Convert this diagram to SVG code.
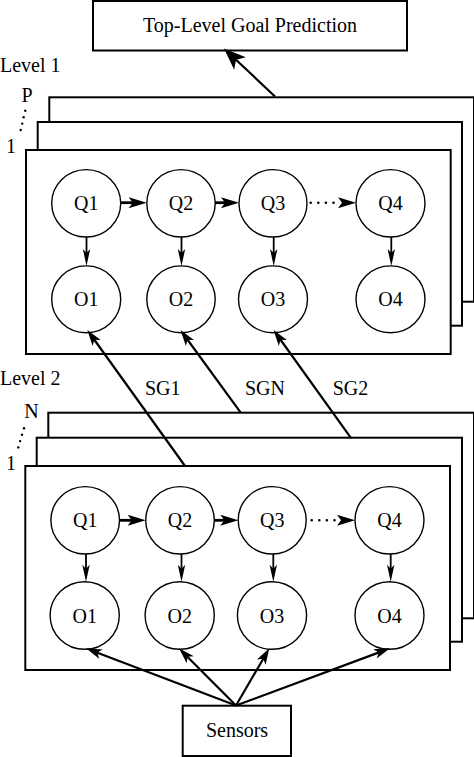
<svg xmlns="http://www.w3.org/2000/svg" width="474" height="757" viewBox="0 0 474 757">
<style>
text{font-family:"Liberation Serif","Times New Roman",serif;font-size:20px;fill:#000}
.c{text-anchor:middle}
.box{fill:#fff;stroke:#000;stroke-width:2}
.n{fill:#fff;stroke:#000;stroke-width:1.4}
.a{fill:none;stroke:#000;stroke-width:2.2}
.h{fill:none;stroke:#000;stroke-width:2.8}
.v{fill:none;stroke:#000;stroke-width:1.8}
.d{fill:none;stroke:#000;stroke-width:2.6;stroke-linecap:round;stroke-dasharray:0 7.6}
</style>
<defs>
<marker id="mq" markerUnits="userSpaceOnUse" orient="auto" refX="0" refY="0" markerWidth="1" markerHeight="1" overflow="visible"><path d="M8,0 L-10,-5.5 L-6,0 L-10,5.5 Z" fill="#000"/></marker>
<marker id="mv" markerUnits="userSpaceOnUse" orient="auto" refX="0" refY="0" markerWidth="1" markerHeight="1" overflow="visible"><path d="M8,0 L-9,-3.7 L-5,0 L-9,3.7 Z" fill="#000"/></marker>
<marker id="ms" markerUnits="userSpaceOnUse" orient="auto" refX="0" refY="0" markerWidth="1" markerHeight="1" overflow="visible"><path d="M8,0 L-8,-5 L-4,0 L-8,5 Z" fill="#000"/></marker>
<marker id="mt" markerUnits="userSpaceOnUse" orient="auto" refX="0" refY="0" markerWidth="1" markerHeight="1" overflow="visible"><path d="M11,0 L-11,-8.5 L-5.5,0 L-11,8.5 Z" fill="#000"/></marker>
</defs>
<rect width="474" height="757" fill="#fff"/>

<g id="top-goal">
<rect class="box" x="93" y="1" width="314" height="49.5"/>
<text class="c" x="250" y="32">Top-Level Goal Prediction</text>
</g>

<g id="level1">
<text x="0" y="72">Level 1</text>
<text x="21.5" y="101.5">P</text>
<g fill="#000"><circle cx="25.3" cy="110.7" r="1.2"/><circle cx="23.6" cy="117.2" r="1.2"/><circle cx="22.2" cy="123.6" r="1.2"/><circle cx="20.7" cy="130" r="1.2"/></g>
<text x="6" y="153">1</text>
<rect class="box" x="49.3" y="97.3" width="424.7" height="204.4"/>
<rect class="box" x="37.7" y="122" width="424.3" height="203.7"/>
<rect class="box" x="26" y="150" width="424.7" height="204"/>
</g>
<g id="L1-Q1"><ellipse class="n" cx="86.2" cy="203.3" rx="34.5" ry="33.7"/><text class="c" x="86.2" y="210">Q1</text></g>
<g id="L1-Q2"><ellipse class="n" cx="181" cy="203.3" rx="34.2" ry="33.7"/><text class="c" x="181" y="210">Q2</text></g>
<g id="L1-Q3"><ellipse class="n" cx="273" cy="203.3" rx="34" ry="33.7"/><text class="c" x="273" y="210">Q3</text></g>
<g id="L1-Q4"><ellipse class="n" cx="390.5" cy="203.3" rx="34.5" ry="33.7"/><text class="c" x="390.5" y="210">Q4</text></g>
<g id="L1-O1"><ellipse class="n" cx="86.2" cy="299.3" rx="34.5" ry="33.4"/><text class="c" x="86.2" y="306.3">O1</text></g>
<g id="L1-O2"><ellipse class="n" cx="181" cy="299.3" rx="34.2" ry="33.4"/><text class="c" x="181" y="306.3">O2</text></g>
<g id="L1-O3"><ellipse class="n" cx="273" cy="299.3" rx="34.5" ry="33.4"/><text class="c" x="273" y="306.3">O3</text></g>
<g id="L1-O4"><ellipse class="n" cx="390.5" cy="299.3" rx="34.5" ry="33.4"/><text class="c" x="390.5" y="306.3">O4</text></g>

<g id="level2">
<text x="0" y="385">Level 2</text>
<text class="c" x="31.5" y="418">N</text>
<g fill="#000"><circle cx="24" cy="428.3" r="1.2"/><circle cx="22" cy="434.7" r="1.2"/><circle cx="20.1" cy="441.1" r="1.2"/><circle cx="18.3" cy="447.4" r="1.2"/></g>
<text x="6" y="470">1</text>
<rect class="box" x="48.3" y="412.7" width="425.7" height="205.6"/>
<rect class="box" x="36.7" y="437.7" width="425.3" height="204"/>
<rect class="box" x="25.3" y="466" width="424.7" height="204"/>
</g>
<g id="L2-Q1"><ellipse class="n" cx="85.2" cy="520.3" rx="34.3" ry="33.7"/><text class="c" x="85.2" y="527.3">Q1</text></g>
<g id="L2-Q2"><ellipse class="n" cx="180" cy="520.3" rx="34.3" ry="33.7"/><text class="c" x="180" y="527.3">Q2</text></g>
<g id="L2-Q3"><ellipse class="n" cx="272.2" cy="520.3" rx="34" ry="33.7"/><text class="c" x="272.2" y="527.3">Q3</text></g>
<g id="L2-Q4"><ellipse class="n" cx="389.5" cy="520.3" rx="34.5" ry="33.7"/><text class="c" x="389.5" y="527.3">Q4</text></g>
<g id="L2-O1"><ellipse class="n" cx="84.7" cy="615.5" rx="34.6" ry="33.8"/><text class="c" x="84.7" y="622.5">O1</text></g>
<g id="L2-O2"><ellipse class="n" cx="179.7" cy="615.5" rx="34.6" ry="33.8"/><text class="c" x="179.7" y="622.5">O2</text></g>
<g id="L2-O3"><ellipse class="n" cx="272" cy="615.5" rx="34.6" ry="33.8"/><text class="c" x="272" y="622.5">O3</text></g>
<g id="L2-O4"><ellipse class="n" cx="389.5" cy="615.5" rx="34.5" ry="33.8"/><text class="c" x="389.5" y="622.5">O4</text></g>

<g id="sensors">
<rect class="box" x="182.7" y="705.7" width="108.3" height="50.3"/>
<text class="c" x="237" y="736.7">Sensors</text>
</g>

<g id="connectors">
<path class="a" d="M275,96.5 L232,56" marker-end="url(#mt)"/>
<path class="h" d="M120.7,202.7 L138.7,202.7" marker-end="url(#mq)"/>
<path class="h" d="M215,202.7 L231,202.7" marker-end="url(#mq)"/>
<path class="d" d="M310.7,202.7 L335,202.7"/>
<path class="h" d="M343,202.7 L348,202.7" marker-end="url(#mq)"/>
<path class="v" d="M86.5,237 L86.5,258" marker-end="url(#mv)"/>
<path class="v" d="M181.5,237 L181.5,258" marker-end="url(#mv)"/>
<path class="v" d="M273.7,237 L273.7,258" marker-end="url(#mv)"/>
<path class="v" d="M391.3,237 L391.3,258" marker-end="url(#mv)"/>
<path class="h" d="M119.5,520.3 L137.7,520.3" marker-end="url(#mq)"/>
<path class="h" d="M214.3,520.3 L230.3,520.3" marker-end="url(#mq)"/>
<path class="d" d="M311.7,520.3 L335,520.3"/>
<path class="h" d="M342,520.3 L347,520.3" marker-end="url(#mq)"/>
<path class="v" d="M86,554 L86,573.7" marker-end="url(#mv)"/>
<path class="v" d="M181.5,554 L181.5,573.7" marker-end="url(#mv)"/>
<path class="v" d="M273.3,554 L273.3,573.7" marker-end="url(#mv)"/>
<path class="v" d="M390.7,554 L390.7,573.7" marker-end="url(#mv)"/>
<path class="a" d="M185,466 L92,336.5" marker-end="url(#ms)"/>
<path class="a" d="M240.7,412.7 L185.2,336.5" marker-end="url(#ms)"/>
<path class="a" d="M350.7,437.7 L278.2,336.5" marker-end="url(#ms)"/>
<text x="145" y="395">SG1</text>
<text x="245" y="395">SGN</text>
<text x="332.7" y="395">SG2</text>
<path class="a" d="M236,705.5 L93.5,651.2" marker-end="url(#ms)"/>
<path class="a" d="M236,705.5 L184.6,654" marker-end="url(#ms)"/>
<path class="a" d="M236,705.5 L265.3,655.2" marker-end="url(#ms)"/>
<path class="a" d="M236,705.5 L382.5,651.1" marker-end="url(#ms)"/>
</g>
</svg>
